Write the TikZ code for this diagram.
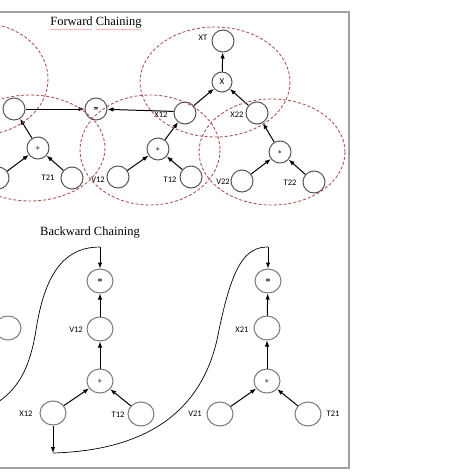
\documentclass[tikz,border=0pt]{standalone}
\usepackage{fontspec}
\setmainfont{Liberation Serif}
\newfontfamily\lblfont{Carlito}
\usetikzlibrary{arrows.meta,shapes.geometric}
\definecolor{framegray}{RGB}{160,160,160}
\definecolor{dashred}{RGB}{175,85,85}
\definecolor{nodegray}{RGB}{85,85,85}
\definecolor{bnodegray}{RGB}{120,120,120}
\newcommand{\groupellipse}[3]% center, x rad, y rad
{(#1) ellipse [x radius=#2,y radius=#3]
}
\newcommand{\mulsym}{$\ast$}
\tikzset{
  fnode/.style={circle, draw=nodegray, line width=1pt, minimum size=22pt, inner sep=0pt, font=\lblfont\fontsize{9}{9}\selectfont},
  bnode/.style={ellipse, draw=bnodegray, line width=1pt, minimum width=26pt, minimum height=24pt, inner sep=0pt, font=\lblfont\bfseries\fontsize{9.5}{9}\selectfont},
  lbl/.style={font=\lblfont\fontsize{8.5}{9}\selectfont, inner sep=0pt},
  title/.style={font=\fontsize{12.5}{14}\selectfont, inner sep=0pt},
  arr/.style={-{Latex[length=6pt,width=4.5pt]}, line width=1pt},
  group/.style={dashred, dash pattern=on 3pt off 2pt, line width=0.9pt},
}

\begin{document}
\begin{tikzpicture}[x=1pt,y=-1pt]
		\useasboundingbox (0,0) rectangle (474,474);
		\clip (0,0) rectangle (474,474);
		\draw[framegray, line width=1.5pt] (-5,12) -- (349,12) -- (349,468) -- (-5,468);
		%Forward Chaining
		\node[title] (ftitle) at (96,23) {Forward Chaining};
		\draw[red!30, line width=0.6pt] (50,29.5) -- (92,29.5) (96,29.5) -- (141,29.5);
		
		\node[fnode] (fl) at (14,109) {};
		\node[fnode] (feq) at (96,109) {\bfseries =};
		\node[fnode] (fx12) at (185,113) {};
		\node[fnode, minimum size=20pt] (fX) at (222,82) {X};
		\node[fnode] (fxt) at (223,41) {};
		\node[fnode] (fx22) at (257,113) {};
		\node[fnode] (fsl) at (38,148) {\mulsym};
		\node[fnode] (fsm) at (158,149) {\mulsym};
		\node[fnode] (fsr) at (280,152) {\mulsym};
		\node[fnode] (fbl) at (-2,178) {};
		\node[fnode] (ft21) at (72,178) {};
		\node[fnode] (fv12) at (118,177) {};
		\node[fnode] (ft12) at (191,177) {};
		\node[fnode] (fv22) at (242,181) {};
		\node[fnode] (ft22) at (314,182) {};
		
		\node[lbl] (lxt) at (203,38) {XT};
		\node[lbl] (lfx12) at (161,115) {X12};
		\node[lbl] (lfx22) at (237,115) {X22};
		\node[lbl] (lft21) at (48,178) {T21};
		\node[lbl] (lfv12) at (98,180) {V12};
		\node[lbl] (lft12) at (170,180) {T12};
		\node[lbl] (lfv22) at (223,182) {V22};
		\node[lbl] (lft22) at (290,183) {T22};
		
		\draw[arr] (fl) -- (feq);
		\draw[arr] (fx12.172) -- (feq);
		\draw[arr] (fsl) -- (fl);
		\draw[arr] (fbl) -- (fsl);
		\draw[arr] (ft21) -- (fsl);
		\draw[arr] (fv12) -- (fsm);
		\draw[arr] (ft12) -- (fsm);
		\draw[arr] (fsm) -- (fx12);
		\draw[arr] (fx12) -- (fX);
		\draw[arr] (fx22) -- (fX);
		\draw[arr] (fX) -- (fxt);
		\draw[arr] (fv22) -- (fsr);
		\draw[arr] (ft22) -- (fsr);
		\draw[arr] (fsr) -- (fx22);
		
		\draw[group]\groupellipse{-20,79}{68}{56};
		\draw[group]\groupellipse{30,148}{75}{53};
		\draw[group]\groupellipse{150,150}{70}{55};
		\draw[group]\groupellipse{215,82}{75}{55};
		\draw[group]\groupellipse{272,152}{73}{53};
		
		%Backward Chaining
		\node[title] (btitle) at (90,233) {Backward Chaining};
		
		\node[bnode] (bl) at (8,328) {};
		\node[bnode] (beqa) at (100,281) {=};
		\node[bnode] (bv12) at (100,329) {};
		\node[bnode] (bsa) at (100,381) {\mulsym};
		\node[bnode] (bx12) at (53,413) {};
		\node[bnode] (bt12) at (141,414) {};
		\node[bnode] (beqb) at (268,281) {=};
		\node[bnode] (bx21) at (267,328) {};
		\node[bnode] (bsb) at (267,381) {\mulsym};
		\node[bnode] (bv21) at (220,414) {};
		\node[bnode] (bt21) at (308,414) {};
		
		\node[lbl] (lbv12) at (76,330) {V12};
		\node[lbl] (lbx12) at (26,414) {X12};
		\node[lbl] (lbt12) at (118,415) {T12};
		\node[lbl] (lbx21) at (242,330) {X21};
		\node[lbl] (lbv21) at (195,414) {V21};
		\node[lbl] (lbt21) at (333,414) {T21};
		
		\draw[arr] (bv12) -- (beqa);
		\draw[arr] (bsa) -- (bv12);
		\draw[arr] (bx12) -- (bsa);
		\draw[arr] (bt12) -- (bsa);
		\draw[arr] (bx21) -- (beqb);
		\draw[arr] (bsb) -- (bx21);
		\draw[arr] (bv21) -- (bsb);
		\draw[arr] (bt21) -- (bsb);
		
		\coordinate (la) at (-40,418);
		\coordinate (lb) at (100,247);
		\coordinate (ra) at (53,453);
		\coordinate (rb) at (268,247);
		\draw[line width=0.7pt] (la) .. controls (10,405) and (28,380) .. (36,330) .. controls (46,265) and (70,247) .. (lb);
		\draw[arr] (lb) -- (beqa);
		\draw[arr] (bx12) -- (ra);
		\draw[line width=0.7pt] (ra) .. controls (160,450) and (205,400) .. (218,335) .. controls (232,265) and (245,247) .. (rb);
		\draw[arr] (rb) -- (beqb);
	\end{tikzpicture}
\end{document}
